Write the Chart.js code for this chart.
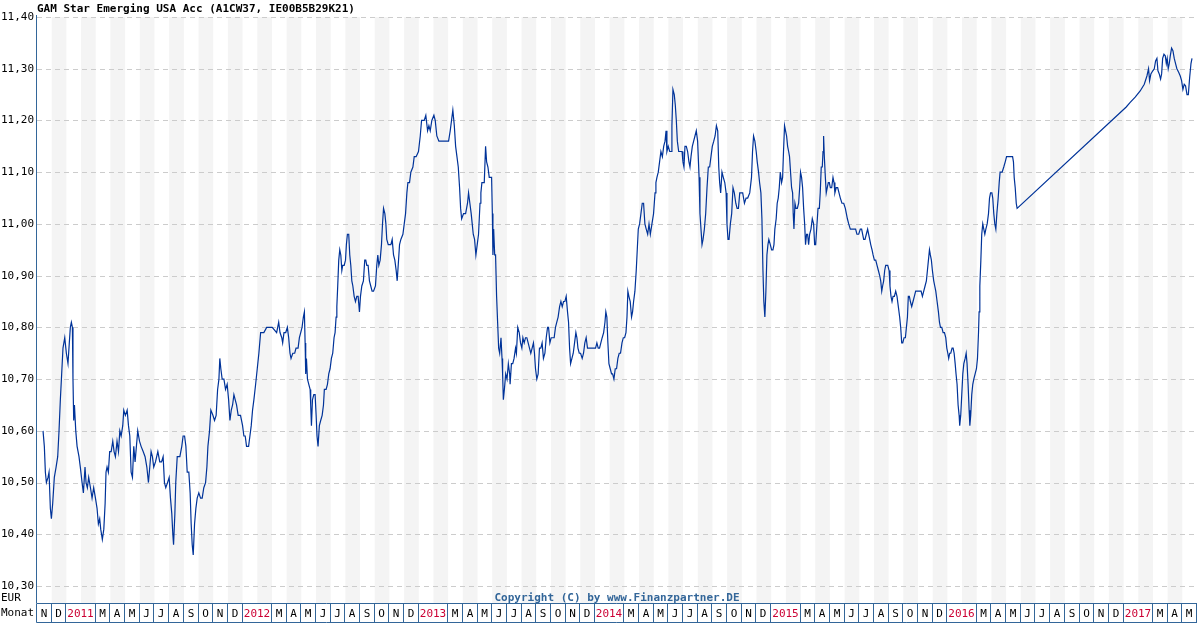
<!DOCTYPE html>
<html><head><meta charset="utf-8">
<script src="https://cdn.jsdelivr.net/npm/chart.js@4"></script>
<style>html,body{margin:0;padding:0;background:#fff}canvas{display:block}</style>
</head><body>
<div style="width:1200px;height:630px"><canvas id="c" width="1200" height="630"></canvas></div>
<script>
const title = "GAM Star Emerging USA Acc (A1CW37, IE00B5B29K21)";
const copyright = "Copyright (C) by www.Finanzpartner.DE";
const yTicks = [10.3,10.4,10.5,10.6,10.7,10.8,10.9,11.0,11.1,11.2,11.3,11.4];
// month index 0 = Nov 2010
const monthLetters = ["J","F","M","A","M","J","J","A","S","O","N","D"];
const startMonth = 10, startYear = 2010, monthCount = 79;
// [months since 1 Nov 2010, NAV in EUR]
const navPoints = [
[0.41,10.60],[0.50,10.57],[0.57,10.52],[0.64,10.50],[0.75,10.51],[0.82,10.52],[0.91,10.45],[0.98,10.43],[1.07,10.46],[1.18,10.51],[1.30,10.53],[1.41,10.55],[1.50,10.60],[1.59,10.66],[1.68,10.71],[1.77,10.76],[1.89,10.78],[2.00,10.75],[2.11,10.73],[2.20,10.77],[2.27,10.80],[2.34,10.81],[2.41,10.80],[2.45,10.70],[2.50,10.62],[2.55,10.65],[2.64,10.60],[2.73,10.57],[2.86,10.55],[2.95,10.53],[3.07,10.50],[3.16,10.48],[3.27,10.53],[3.34,10.50],[3.43,10.49],[3.52,10.51],[3.64,10.49],[3.75,10.47],[3.86,10.49],[3.98,10.47],[4.09,10.45],[4.18,10.42],[4.27,10.43],[4.34,10.41],[4.45,10.39],[4.55,10.41],[4.64,10.46],[4.70,10.52],[4.77,10.53],[4.86,10.52],[4.95,10.56],[5.05,10.56],[5.16,10.58],[5.25,10.56],[5.34,10.55],[5.45,10.58],[5.55,10.56],[5.64,10.60],[5.73,10.59],[5.84,10.61],[5.91,10.64],[6.02,10.63],[6.14,10.64],[6.23,10.61],[6.32,10.59],[6.41,10.52],[6.50,10.51],[6.59,10.57],[6.68,10.54],[6.77,10.57],[6.86,10.60],[6.98,10.58],[7.09,10.57],[7.23,10.56],[7.36,10.55],[7.48,10.53],[7.59,10.50],[7.68,10.53],[7.77,10.56],[7.86,10.55],[7.95,10.53],[8.07,10.54],[8.23,10.56],[8.36,10.54],[8.48,10.54],[8.59,10.55],[8.68,10.50],[8.77,10.49],[8.89,10.50],[9.00,10.51],[9.09,10.47],[9.18,10.44],[9.25,10.40],[9.30,10.38],[9.39,10.44],[9.45,10.50],[9.55,10.55],[9.73,10.55],[9.86,10.57],[9.95,10.59],[10.05,10.59],[10.14,10.57],[10.23,10.52],[10.34,10.52],[10.43,10.48],[10.50,10.42],[10.57,10.38],[10.64,10.36],[10.73,10.42],[10.82,10.45],[10.91,10.47],[11.02,10.48],[11.14,10.47],[11.25,10.47],[11.36,10.49],[11.48,10.50],[11.57,10.53],[11.64,10.57],[11.75,10.60],[11.84,10.64],[11.98,10.63],[12.09,10.62],[12.20,10.63],[12.30,10.68],[12.39,10.70],[12.45,10.74],[12.52,10.72],[12.61,10.70],[12.73,10.70],[12.84,10.68],[12.95,10.69],[13.05,10.66],[13.14,10.62],[13.23,10.64],[13.32,10.65],[13.41,10.67],[13.50,10.66],[13.59,10.65],[13.70,10.63],[13.86,10.63],[14.00,10.61],[14.09,10.59],[14.18,10.59],[14.27,10.57],[14.41,10.57],[14.50,10.59],[14.59,10.61],[14.68,10.64],[14.77,10.66],[14.89,10.69],[15.00,10.72],[15.11,10.75],[15.23,10.79],[15.45,10.79],[15.64,10.80],[15.80,10.80],[16.02,10.80],[16.32,10.79],
[16.46,10.81],[16.55,10.79],[16.67,10.78],[16.73,10.77],[16.82,10.79],[16.94,10.79],[17.05,10.80],[17.14,10.78],[17.23,10.75],[17.30,10.74],[17.42,10.75],[17.55,10.75],[17.64,10.76],[17.78,10.76],[17.87,10.78],[17.96,10.79],[18.05,10.80],[18.14,10.82],[18.21,10.83],[18.26,10.77],[18.30,10.71],[18.35,10.74],[18.42,10.70],[18.51,10.69],[18.60,10.68],[18.64,10.65],[18.69,10.61],[18.76,10.66],[18.85,10.67],[18.94,10.67],[19.01,10.63],[19.07,10.59],[19.14,10.57],[19.23,10.61],[19.32,10.62],[19.42,10.63],[19.51,10.65],[19.57,10.68],[19.69,10.68],[19.78,10.69],[19.87,10.71],[19.96,10.72],[20.05,10.74],[20.14,10.75],[20.23,10.78],[20.30,10.79],[20.37,10.82],[20.42,10.84],[20.48,10.88],[20.55,10.93],[20.62,10.95],[20.69,10.94],[20.76,10.91],[20.82,10.92],[20.92,10.92],[21.01,10.93],[21.07,10.96],[21.14,10.98],[21.23,10.98],[21.30,10.94],[21.37,10.92],[21.44,10.89],[21.51,10.88],[21.60,10.86],[21.69,10.85],[21.78,10.86],[21.87,10.86],[21.96,10.83],[22.03,10.86],[22.12,10.88],[22.23,10.89],[22.32,10.93],[22.39,10.93],[22.46,10.92],[22.55,10.92],[22.64,10.89],[22.73,10.88],[22.82,10.87],[22.92,10.87],[23.05,10.88],[23.14,10.92],[23.21,10.94],[23.28,10.92],[23.37,10.93],[23.46,10.96],[23.53,11.00],[23.60,11.03],[23.69,11.02],[23.76,11.00],[23.82,10.97],[23.92,10.96],[24.01,10.96],[24.10,10.96],[24.19,10.97],[24.28,10.94],[24.37,10.93],[24.46,10.91],[24.53,10.89],[24.60,10.92],[24.69,10.96],[24.78,10.97],[24.92,10.98],[25.01,11.00],[25.10,11.02],[25.19,11.06],[25.26,11.08],[25.37,11.08],[25.46,11.10],[25.60,11.11],[25.69,11.13],[25.82,11.13],[25.98,11.14],[26.10,11.17],[26.19,11.20],[26.37,11.20],[26.48,11.21],[26.60,11.18],[26.69,11.19],[26.78,11.18],[26.89,11.20],[27.03,11.21],[27.12,11.20],[27.23,11.17],[27.37,11.16],[27.51,11.16],[27.78,11.16],[27.92,11.16],[28.03,11.16],[28.14,11.18],[28.23,11.20],[28.32,11.22],[28.42,11.19],[28.51,11.15],[28.60,11.13],[28.69,11.11],[28.78,11.07],[28.85,11.03],[28.92,11.01],[29.05,11.02],[29.19,11.02],[29.32,11.04],[29.39,11.06],[29.48,11.04],[29.57,11.02],[29.64,11.00],[29.71,10.98],[29.80,10.97],[29.89,10.94],[29.98,10.96],[30.07,10.98],[30.17,11.04],[30.23,11.06],[30.30,11.08],[30.46,11.08],[30.55,11.15],[30.62,11.12],[30.71,11.11],[30.80,11.09],[30.96,11.09],[31.01,11.02],[31.05,10.94],[31.10,10.99],[31.17,10.94],[31.23,10.94],[31.30,10.86],[31.37,10.81],[31.44,10.76],[31.51,10.75],[31.60,10.78],[31.67,10.74],[31.71,10.71],[31.76,10.66],[31.83,10.68],[31.92,10.71],[32.01,10.70],[32.10,10.73],[32.19,10.71],
[32.22,10.69],[32.31,10.73],[32.40,10.73],[32.49,10.74],[32.59,10.76],[32.65,10.75],[32.74,10.80],[32.84,10.79],[32.93,10.77],[33.02,10.76],[33.09,10.78],[33.18,10.77],[33.27,10.78],[33.36,10.78],[33.45,10.77],[33.54,10.76],[33.63,10.75],[33.72,10.76],[33.81,10.77],[33.88,10.75],[33.95,10.72],[34.04,10.70],[34.13,10.71],[34.22,10.76],[34.31,10.76],[34.40,10.77],[34.49,10.74],[34.59,10.75],[34.68,10.78],[34.77,10.80],[34.84,10.80],[34.93,10.77],[35.02,10.78],[35.13,10.78],[35.22,10.78],[35.31,10.80],[35.40,10.81],[35.49,10.82],[35.59,10.84],[35.68,10.85],[35.77,10.84],[35.86,10.85],[35.95,10.85],[36.04,10.86],[36.13,10.83],[36.20,10.81],[36.27,10.76],[36.34,10.73],[36.43,10.74],[36.52,10.75],[36.61,10.77],[36.70,10.79],[36.77,10.78],[36.84,10.76],[36.93,10.75],[37.02,10.75],[37.13,10.74],[37.22,10.75],[37.31,10.77],[37.40,10.78],[37.49,10.76],[37.68,10.76],[37.90,10.76],[38.04,10.76],[38.13,10.77],[38.22,10.76],[38.31,10.76],[38.40,10.77],[38.49,10.78],[38.59,10.79],[38.68,10.81],[38.74,10.83],[38.81,10.82],[38.88,10.77],[38.95,10.73],[39.04,10.72],[39.13,10.71],[39.20,10.71],[39.29,10.70],[39.38,10.72],[39.47,10.72],[39.56,10.74],[39.65,10.75],[39.74,10.75],[39.84,10.77],[39.93,10.78],[40.02,10.78],[40.11,10.79],[40.18,10.82],[40.24,10.87],[40.31,10.86],[40.40,10.85],[40.49,10.82],[40.56,10.83],[40.63,10.85],[40.72,10.87],[40.81,10.91],[40.88,10.95],[40.95,10.99],[41.04,11.00],[41.13,11.02],[41.22,11.04],[41.31,11.04],[41.40,11.00],[41.49,10.99],[41.59,10.98],[41.68,11.00],[41.77,10.98],[41.88,11.00],[41.99,11.02],[42.09,11.06],[42.15,11.08],[42.22,11.09],[42.31,11.10],[42.40,11.12],[42.49,11.14],[42.59,11.13],[42.68,11.15],[42.77,11.16],[42.84,11.18],[42.90,11.14],[42.99,11.15],[43.09,11.14],[43.18,11.14],[43.24,11.19],[43.31,11.26],[43.40,11.25],[43.47,11.23],[43.54,11.20],[43.61,11.16],[43.70,11.14],[43.81,11.14],[43.93,11.14],[43.99,11.12],[44.06,11.11],[44.13,11.15],[44.22,11.15],[44.31,11.14],[44.40,11.12],[44.47,11.11],[44.54,11.13],[44.63,11.15],[44.72,11.16],[44.81,11.17],[44.90,11.18],[44.99,11.16],[45.09,11.09],[45.15,11.02],[45.22,10.99],[45.29,10.96],[45.36,10.97],[45.45,10.99],[45.54,11.02],[45.63,11.07],[45.72,11.11],[45.81,11.11],[45.90,11.13],[45.99,11.15],[46.09,11.16],[46.18,11.17],[46.27,11.19],[46.36,11.18],[46.43,11.11],[46.49,11.08],[46.56,11.06],[46.65,11.10],[46.74,11.09],[46.84,11.08],[46.93,11.06],[46.99,11.00],[47.06,10.97],[47.13,10.97],[47.22,11.00],[47.31,11.02],[47.40,11.07],[47.49,11.06],[47.59,11.04],[47.68,11.03],[47.77,11.03],[47.86,11.06],[47.95,11.06],[48.06,11.06],[48.18,11.04],[48.29,11.05],[48.40,11.05],[48.54,11.06],
[48.66,11.09],[48.73,11.14],[48.80,11.17],[48.89,11.16],[48.98,11.14],[49.05,11.12],[49.14,11.10],[49.21,11.08],[49.30,11.06],[49.37,11.01],[49.44,10.91],[49.50,10.85],[49.57,10.82],[49.64,10.87],[49.71,10.94],[49.78,10.96],[49.84,10.97],[49.94,10.96],[50.03,10.95],[50.12,10.95],[50.19,10.96],[50.25,10.99],[50.34,11.01],[50.41,11.04],[50.48,11.05],[50.55,11.07],[50.62,11.10],[50.71,11.08],[50.78,11.09],[50.84,11.14],[50.91,11.19],[50.98,11.18],[51.05,11.17],[51.12,11.15],[51.19,11.14],[51.25,11.13],[51.32,11.10],[51.39,11.07],[51.46,11.06],[51.50,11.02],[51.55,10.99],[51.62,11.04],[51.69,11.03],[51.78,11.03],[51.87,11.04],[51.94,11.07],[52.00,11.10],[52.07,11.09],[52.14,11.07],[52.21,11.03],[52.28,11.00],[52.34,10.96],[52.41,10.98],[52.48,10.98],[52.55,10.96],[52.62,10.98],[52.71,10.99],[52.80,11.01],[52.89,11.00],[52.96,10.96],[53.03,10.96],[53.12,11.00],[53.19,11.03],[53.28,11.03],[53.34,11.06],[53.41,11.11],[53.48,11.11],[53.53,11.14],[53.57,11.17],[53.62,11.13],[53.69,11.09],[53.75,11.06],[53.82,11.07],[53.89,11.08],[53.96,11.08],[54.03,11.07],[54.12,11.07],[54.21,11.09],[54.28,11.08],[54.34,11.06],[54.43,11.07],[54.53,11.07],[54.62,11.06],[54.71,11.05],[54.82,11.04],[54.94,11.04],[55.05,11.03],[55.12,11.02],[55.19,11.01],[55.28,11.00],[55.39,10.99],[55.53,10.99],[55.66,10.99],[55.75,10.99],[55.84,10.98],[55.96,10.98],[56.07,10.99],[56.16,10.99],[56.23,10.98],[56.30,10.97],[56.39,10.97],[56.48,10.98],[56.57,10.99],[56.64,10.98],[56.71,10.97],[56.78,10.96],[56.87,10.95],[56.94,10.94],[57.03,10.93],[57.12,10.93],[57.21,10.92],[57.30,10.91],[57.39,10.90],[57.46,10.89],[57.53,10.87],[57.59,10.88],[57.66,10.89],[57.73,10.91],[57.80,10.92],[57.94,10.92],[58.03,10.91],[58.09,10.88],[58.16,10.86],[58.23,10.85],[58.30,10.86],[58.39,10.86],[58.48,10.87],[58.57,10.86],[58.66,10.84],[58.75,10.82],[58.82,10.80],[58.89,10.77],[58.96,10.77],[59.05,10.78],[59.14,10.78],[59.21,10.80],[59.28,10.82],[59.34,10.86],[59.41,10.86],[59.48,10.85],[59.57,10.84],[59.66,10.85],[59.75,10.86],[59.84,10.87],[59.98,10.87],[60.12,10.87],[60.21,10.87],[60.30,10.86],[60.39,10.87],[60.48,10.88],[60.57,10.89],[60.64,10.91],[60.71,10.93],[60.78,10.95],[60.84,10.94],[60.91,10.93],[60.98,10.91],[61.07,10.89],[61.14,10.88],[61.21,10.87],[61.30,10.85],[61.39,10.83],[61.46,10.81],[61.53,10.80],[61.62,10.80],[61.71,10.79],[61.80,10.79],[61.89,10.78],[61.96,10.76],[62.03,10.75],[62.09,10.74],[62.16,10.75],[62.23,10.75],[62.32,10.76],[62.39,10.76],[62.46,10.75],[62.53,10.73],[62.59,10.71],[62.66,10.69],[62.73,10.65],[62.80,10.63],[62.84,10.61],[62.91,10.63],[62.98,10.67],[63.05,10.71],[63.12,10.73],[63.21,10.74],[63.28,10.75],[63.34,10.73],[63.41,10.69],[63.48,10.64],[63.53,10.61],[63.59,10.63],[63.66,10.67],[63.73,10.69],[63.80,10.70],[63.89,10.71],[63.98,10.72],[64.05,10.74],[64.12,10.79],[64.16,10.83],[64.21,10.88],[64.28,10.93],[64.34,10.98],[64.41,11.00],[64.48,10.99],[64.55,10.98],[64.62,10.99],[64.71,11.00],[64.80,11.02],[64.87,11.05],[64.94,11.06],[65.03,11.06],[65.09,11.05],[65.16,11.02],[65.23,11.00],[65.30,10.99],[65.37,11.02],[65.46,11.05],[65.53,11.08],[65.59,11.10],[65.73,11.10],[65.84,11.11],[65.94,11.12],[66.03,11.13],[66.25,11.13],[66.44,11.13],[66.50,11.12],[66.55,11.09],[66.62,11.07],[66.69,11.04],[66.75,11.03],
[74.18,11.226],[74.45,11.235],[74.79,11.245],[75.13,11.257],[75.41,11.27],[75.59,11.286],[75.70,11.30],[75.77,11.277],[75.86,11.29],[75.99,11.296],[76.09,11.30],[76.18,11.315],[76.27,11.32],[76.34,11.296],[76.43,11.29],[76.52,11.28],[76.59,11.29],[76.66,11.32],[76.75,11.328],[76.84,11.325],[76.91,11.31],[76.97,11.32],[77.04,11.30],[77.11,11.31],[77.18,11.325],[77.27,11.34],[77.36,11.335],[77.45,11.32],[77.54,11.31],[77.63,11.30],[77.75,11.293],[77.86,11.286],[77.95,11.277],[78.04,11.26],[78.13,11.27],[78.22,11.267],[78.32,11.25],[78.41,11.25],[78.50,11.283],[78.59,11.31],[78.66,11.32]
];

const MONO = "'DejaVu Sans Mono', monospace";
const AXIS = "#336699";

const decor = {
  id: 'decor',
  beforeDatasetsDraw(chart) {
    const {ctx, chartArea: a, scales: {x, y}} = chart;
    ctx.save();
    ctx.fillStyle = '#f4f4f4';
    for (let m = 1; m < monthCount; m += 2) {
      const x0 = x.getPixelForValue(m), x1 = x.getPixelForValue(m + 1);
      ctx.fillRect(x0, a.top, x1 - x0, a.bottom - a.top);
    }
    // dashed grid
    ctx.strokeStyle = '#cccccc'; ctx.lineWidth = 1; ctx.setLineDash([5, 4]);
    yTicks.forEach(t => {
      const py = Math.round(y.getPixelForValue(t)) + 0.5;
      ctx.beginPath(); ctx.moveTo(a.left, py); ctx.lineTo(a.right, py); ctx.stroke();
    });
    ctx.restore();
  },
  afterDraw(chart) {
    const {ctx, chartArea: a, scales: {x, y}} = chart;
    ctx.save();
    ctx.font = "11px " + MONO; ctx.fillStyle = '#000'; ctx.textBaseline = 'middle'; ctx.textAlign = 'left';
    yTicks.forEach(t => {
      ctx.fillText(t.toFixed(2).replace('.', ','), 1, y.getPixelForValue(t));
    });
    ctx.fillText('EUR', 1, y.getPixelForValue(10.3) + 12);
    // left axis line
    ctx.strokeStyle = AXIS; ctx.lineWidth = 1;
    ctx.beginPath(); ctx.moveTo(a.left - 0.5, a.top - 2); ctx.lineTo(a.left - 0.5, a.bottom); ctx.stroke();
    // month row
    const top = a.bottom + 0.5, bot = a.bottom + 19.5;
    ctx.fillText('Monat', 1, (top + bot) / 2);
    const cells = [];
    for (let m = 0; m < monthCount; m++) {
      const mon = (startMonth + m) % 12, yr = startYear + Math.floor((startMonth + m) / 12);
      if (mon === 1) continue;
      if (mon === 0) cells.push([m, Math.min(m + 2, monthCount), String(yr), true]);
      else cells.push([m, m + 1, monthLetters[mon], false]);
    }
    ctx.beginPath(); ctx.moveTo(a.left - 0.5, top); ctx.lineTo(a.right, top);
    ctx.moveTo(a.left - 0.5, bot); ctx.lineTo(a.right, bot); ctx.stroke();
    ctx.textAlign = 'center';
    cells.forEach(([m0, m1, lab, isYear]) => {
      const x0 = Math.round(x.getPixelForValue(m0)) - 0.5, x1 = Math.round(x.getPixelForValue(m1)) - 0.5;
      ctx.beginPath(); ctx.moveTo(x0, top); ctx.lineTo(x0, bot); ctx.moveTo(x1, top); ctx.lineTo(x1, bot); ctx.stroke();
      ctx.fillStyle = isYear ? '#cc0033' : '#000';
      ctx.fillText(lab, (x0 + x1) / 2, (top + bot) / 2 + 1);
    });
    // title
    ctx.textAlign = 'left'; ctx.fillStyle = '#000'; ctx.font = "bold 11px " + MONO;
    ctx.fillText(title, a.left, 9);
    ctx.textAlign = 'center'; ctx.fillStyle = AXIS;
    ctx.fillText(copyright, 617, a.bottom - 5);
    ctx.restore();
  }
};

new Chart(document.getElementById('c'), {
  type: 'line',
  data: { datasets: [{
    data: navPoints.map(([m, v]) => ({x: m, y: v})),
    borderColor: '#003399', borderWidth: 1.2, pointRadius: 0, tension: 0, fill: false
  }]},
  options: {
    responsive: false, animation: false, devicePixelRatio: 1,
    layout: { padding: { left: 37, top: 17, right: 3, bottom: 27 } },
    plugins: { legend: { display: false }, tooltip: { enabled: false } },
    scales: {
      x: { type: 'linear', min: 0, max: monthCount, display: false },
      y: { min: 11.40 - 586/517.3, max: 11.40, display: false }
    }
  },
  plugins: [decor]
});
</script>
</body></html>
